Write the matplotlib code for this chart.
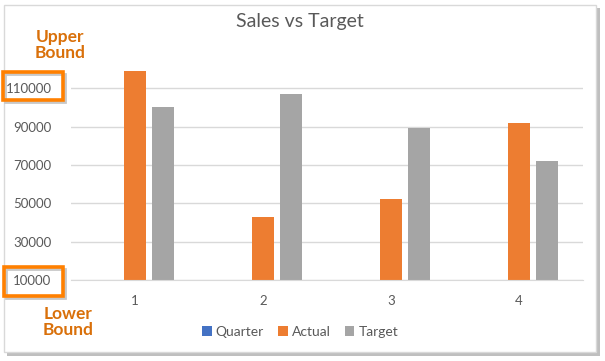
import numpy as np
import matplotlib.pyplot as plt
from matplotlib.patches import Rectangle

# Data
categories = ['1', '2', '3', '4']
quarter = [1, 2, 3, 4]
actual = [119000, 43000, 52000, 92000]
target = [100000, 107000, 89000, 72000]
y_ticks = [10000, 30000, 50000, 70000, 90000, 110000]

plt.rcParams['font.family'] = ['Lato', 'DejaVu Sans']

W, H = 605, 361
fig = plt.figure(figsize=(W / 100, H / 100), dpi=100)
fig.patch.set_facecolor('white')

def box(x0, y0, x1, y1, **kw):
    # rectangle in pixel coords (top-left origin) drawn on the figure
    return Rectangle((x0 / W, 1 - y1 / H), (x1 - x0) / W, (y1 - y0) / H,
                     transform=fig.transFigure, **kw)

# chart area with shadow
fig.patches.append(box(7, 8, 600, 356, facecolor='#BFBFBF', edgecolor='none', zorder=-2))
fig.patches.append(box(4, 5, 596, 352, facecolor='white', edgecolor='#D9D9D9', lw=1, zorder=-1))

ax = fig.add_axes([71 / W, 1 - 280 / H, 512 / W, 211 / H])
ax.set_facecolor('none')
ax.set_zorder(2)

x = np.arange(1, len(categories) + 1)
w = 0.172
off = 0.219
ax.bar(x - off, quarter, w, color='#4472C4', label='Quarter', zorder=2)
ax.bar(x, actual, w, color='#ED7D31', label='Actual', zorder=2)
ax.bar(x + off, target, w, color='#A5A5A5', label='Target', zorder=2)

ax.set_xlim(0.5, 4.5)
ax.set_ylim(10000, 120000)
ax.set_yticks(y_ticks)
ax.set_xticks(x)
ax.set_xticklabels(categories)
ax.grid(axis='y', color='#D9D9D9', lw=1, zorder=0)
ax.set_axisbelow(True)
for s in ['top', 'right', 'left']:
    ax.spines[s].set_visible(False)
ax.spines['bottom'].set_color('#D9D9D9')
ax.tick_params(axis='both', length=0, colors='#595959', labelsize=9.5)
ax.tick_params(axis='y', pad=14)
ax.tick_params(axis='x', pad=11)

fig.text(300 / W, 1 - 22 / H, 'Sales vs Target', ha='center', va='center',
         fontsize=14, color='#595959')

leg = ax.legend(loc='center', bbox_to_anchor=(300 / W, 1 - 332 / H),
                bbox_transform=fig.transFigure, ncol=3, frameon=False,
                fontsize=10, handlelength=0.7, handleheight=0.7,
                handletextpad=0.3, columnspacing=1.0)
for t in leg.get_texts():
    t.set_color('#595959')

# bound annotations
orange = '#D9700A'
fig.text(60 / W, 1 - 45 / H, 'Upper\nBound', ha='center', va='center',
         color=orange, fontsize=12.5, fontweight='bold', linespacing=1.05)
fig.text(68 / W, 1 - 322 / H, 'Lower\nBound', ha='center', va='center',
         color=orange, fontsize=12.5, fontweight='bold', linespacing=1.05)

for (x0, y0, x1, y1) in [(3, 72, 63, 100), (4, 267, 63, 296)]:
    fig.patches.append(box(x0 + 2, y0 + 2, x1 + 2, y1 + 2, facecolor='none',
                           edgecolor='#C8C8C8', lw=2, zorder=3))
    fig.patches.append(box(x0, y0, x1, y1, facecolor='none',
                           edgecolor='#FF8000', lw=2.6, zorder=4))

fig.savefig('out.png', dpi=100)
